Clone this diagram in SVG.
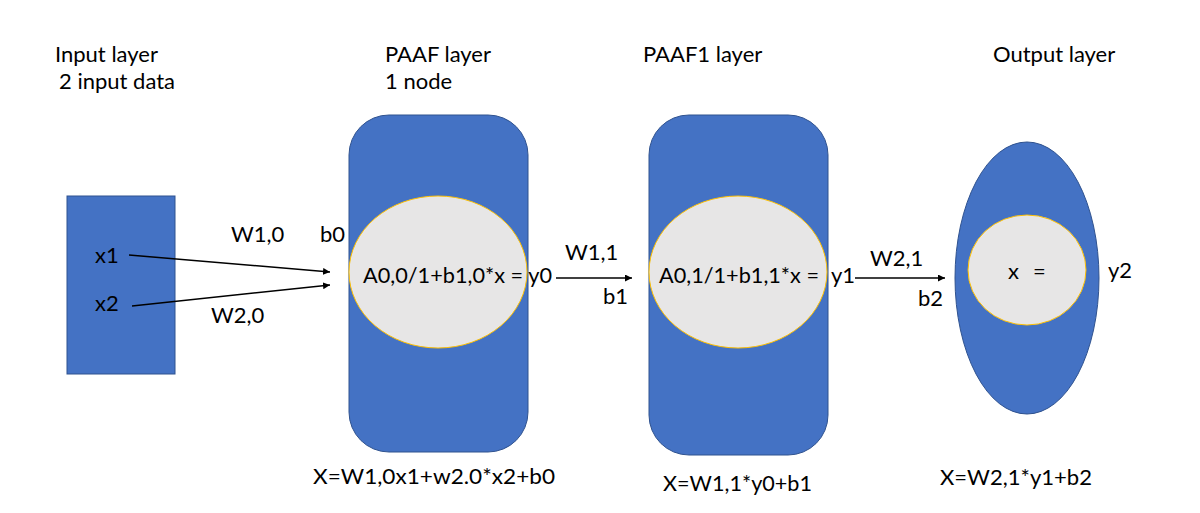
<svg xmlns="http://www.w3.org/2000/svg" width="1200" height="513" viewBox="0 0 1200 513">
<style>
text{font-family:"Lato","Open Sans","Liberation Sans",sans-serif;font-size:22px;fill:#000}
.blue{fill:#4472C4;stroke:#2F528F;stroke-width:1}
.inner{fill:#E7E6E6;stroke:#FFC000;stroke-width:1}
.con{stroke:#000;stroke-width:1.5;fill:none;marker-end:url(#ah)}
</style>
<defs>
<marker id="ah" viewBox="0 0 10 10" refX="10" refY="5" markerWidth="7" markerHeight="7" orient="auto" markerUnits="userSpaceOnUse"><path d="M0,0 L10,5 L0,10 z" fill="#000"/></marker>
</defs>
<rect width="1200" height="513" fill="#fff"/>
<g id="labels">
<text x="55" y="62">Input layer</text>
<text x="59" y="89">2 input data</text>
<text x="385" y="62">PAAF layer</text>
<text x="385" y="89">1 node</text>
<text x="643" y="62">PAAF1 layer</text>
<text x="993" y="62">Output layer</text>
</g>
<g id="input">
<rect class="blue" x="67" y="196" width="108" height="178"/>
<text x="95" y="263">x1</text>
<text x="95" y="311">x2</text>
</g>
<g id="paaf">
<rect class="blue" x="349" y="115" width="179" height="337" rx="40"/>
<ellipse class="inner" cx="438" cy="272" rx="89" ry="76"/>
<text x="363" y="283" textLength="189" lengthAdjust="spacingAndGlyphs">A0,0/1+b1,0*x = y0</text>
</g>
<g id="paaf1">
<rect class="blue" x="649" y="115" width="179" height="340" rx="40"/>
<ellipse class="inner" cx="738" cy="272" rx="89" ry="76"/>
<text x="659" y="283" textLength="160" lengthAdjust="spacingAndGlyphs">A0,1/1+b1,1*x =</text>
<text x="831" y="283">y1</text>
</g>
<g id="output">
<ellipse class="blue" cx="1027" cy="278" rx="72" ry="136"/>
<ellipse class="inner" cx="1027" cy="270" rx="59" ry="55"/>
<text x="1008" y="279">x</text>
<text x="1033" y="279">=</text>
<text x="1108" y="278">y2</text>
</g>
<g id="connectors">
<line class="con" x1="129" y1="255" x2="330" y2="272"/>
<line class="con" x1="132" y1="306" x2="330" y2="285"/>
<line class="con" x1="556" y1="278" x2="632" y2="278"/>
<line class="con" x1="855" y1="278" x2="945" y2="278"/>
<text x="231" y="242">W1,0</text>
<text x="320" y="242">b0</text>
<text x="211" y="323">W2,0</text>
<text x="565" y="260">W1,1</text>
<text x="603" y="304">b1</text>
<text x="870" y="266">W2,1</text>
<text x="918" y="306">b2</text>
</g>
<g id="formulas">
<text x="313" y="484" textLength="242" lengthAdjust="spacingAndGlyphs">X=W1,0x1+w2.0*x2+b0</text>
<text x="663" y="491" textLength="149" lengthAdjust="spacingAndGlyphs">X=W1,1*y0+b1</text>
<text x="940" y="485" textLength="152" lengthAdjust="spacingAndGlyphs">X=W2,1*y1+b2</text>
</g>
</svg>
